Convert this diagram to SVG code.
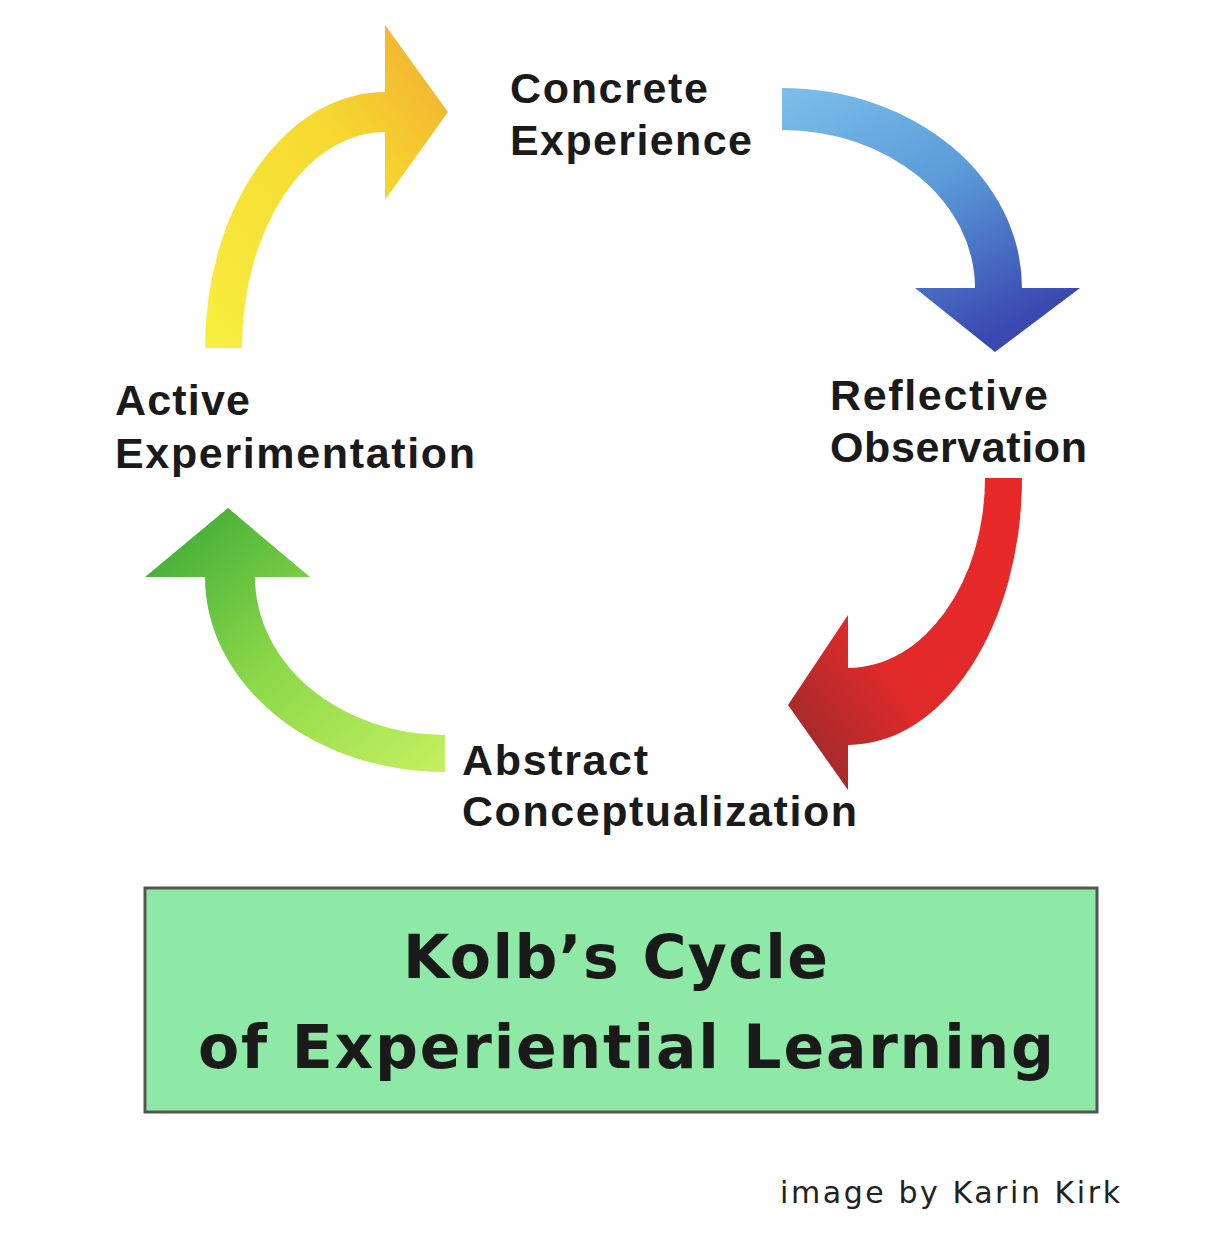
<svg xmlns="http://www.w3.org/2000/svg" width="1224" height="1251" viewBox="0 0 1224 1251">
<style>
.lbl{font-family:"Liberation Sans",Arial,sans-serif;font-weight:bold;font-size:43px;fill:#1a1a1a}
.ttl{font-family:"DejaVu Sans",sans-serif;font-weight:bold;font-size:60px;fill:#1a1a1a}
.cr{font-family:"DejaVu Sans",sans-serif;font-size:30px;fill:#222}
</style>
<defs>
<linearGradient id="gy" x1="0" y1="1" x2="1" y2="0"><stop offset="0" stop-color="#f8ee40"/><stop offset="0.6" stop-color="#f6d830"/><stop offset="1" stop-color="#f2aa30"/></linearGradient>
<linearGradient id="gb" x1="0" y1="0" x2="0.6" y2="1"><stop offset="0" stop-color="#7cbfea"/><stop offset="0.5" stop-color="#5a9ad8"/><stop offset="1" stop-color="#3a48b0"/></linearGradient>
<linearGradient id="gr" x1="1" y1="0" x2="0" y2="1"><stop offset="0" stop-color="#e82828"/><stop offset="0.6" stop-color="#e02a2a"/><stop offset="1" stop-color="#8e2a2a"/></linearGradient>
<linearGradient id="gg" x1="1" y1="1" x2="0" y2="0"><stop offset="0" stop-color="#c4f060"/><stop offset="0.5" stop-color="#8ad848"/><stop offset="1" stop-color="#35a535"/></linearGradient>
</defs>
<rect width="1224" height="1251" fill="#fff"/>
<g id="connectors">
<path d="M205,348 A180,256 0 0 1 385,92 L385,25 L448,112 L385,200 L385,132 A143,216 0 0 0 242,348 Z" fill="url(#gy)"/>
<path d="M782,88 A240,200 0 0 1 1022,288 L1080,288 L995,352 L915,288 L975,288 A193,158 0 0 0 782,130 Z" fill="url(#gb)"/>
<path d="M1022,478 A174,267 0 0 1 848,745 L848,790 L788,705 L848,615 L848,668 A137,190 0 0 0 985,478 Z" fill="url(#gr)"/>
<path d="M445,772 A240,195 0 0 1 205,577 L145,577 L228,508 L310,577 L255,577 A190,158 0 0 0 445,735 Z" fill="url(#gg)"/>
</g>
<g id="concrete"><text class="lbl" x="510" y="103" textLength="198">Concrete</text><text class="lbl" x="510" y="155" textLength="242">Experience</text></g>
<g id="reflective"><text class="lbl" x="830" y="410" textLength="218">Reflective</text><text class="lbl" x="830" y="462" textLength="257">Observation</text></g>
<g id="active"><text class="lbl" x="115" y="415" textLength="135">Active</text><text class="lbl" x="115" y="468" textLength="360">Experimentation</text></g>
<g id="abstract"><text class="lbl" x="462" y="775" textLength="186">Abstract</text><text class="lbl" x="462" y="826" textLength="395">Conceptualization</text></g>
<g id="title">
<rect x="145" y="888" width="952" height="224" fill="#8ee8a6" stroke="#555" stroke-width="3"/>
<text class="ttl" x="403" y="978" textLength="425">Kolb’s Cycle</text>
<text class="ttl" x="198" y="1068" textLength="856">of Experiential Learning</text>
</g>
<text class="cr" x="780" y="1203" textLength="340">image by Karin Kirk</text>
</svg>
